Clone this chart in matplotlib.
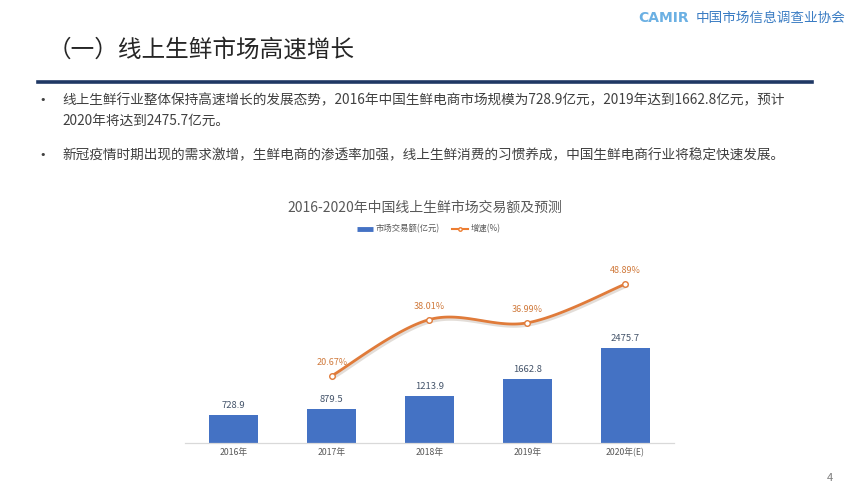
import numpy as np
import matplotlib
matplotlib.use("Agg")
import matplotlib.pyplot as plt
from matplotlib.lines import Line2D

plt.rcParams['font.family'] = ['Noto Sans CJK SC', 'DejaVu Sans']

# ---- data ----
years = ["2016年", "2017年", "2018年", "2019年", "2020年(E)"]
sales = [728.9, 879.5, 1213.9, 1662.8, 2475.7]
growth_years_idx = [1, 2, 3, 4]
growth = [20.67, 38.01, 36.99, 48.89]

header = "（一）线上生鲜市场高速增长"
bullet1_l1 = "线上生鲜行业整体保持高速增长的发展态势，2016年中国生鲜电商市场规模为728.9亿元，2019年达到1662.8亿元，预计"
bullet1_l2 = "2020年将达到2475.7亿元。"
bullet2 = "新冠疫情时期出现的需求激增，生鲜电商的渗透率加强，线上生鲜消费的习惯养成，中国生鲜电商行业将稳定快速发展。"
chart_title = "2016-2020年中国线上生鲜市场交易额及预测"
legend_labels = ["市场交易额(亿元)", "增速(%)"]

W, H = 850, 490
fig = plt.figure(figsize=(W / 100, H / 100), dpi=100)
fig.patch.set_facecolor("white")

def fx(x):
    return x / W

def fy(y):
    return 1 - y / H

# ---- slide header ----
fig.text(fx(48), fy(50), header, fontsize=17, color="#262626", va="center", ha="left")
fig.add_artist(Line2D([fx(38), fx(812)], [fy(82), fy(82)], color="#1F3864", lw=2.6))

# logo
fig.text(fx(664), fy(18), "CAMIR", fontsize=10, color="#6BB0E3", va="center", ha="center",
         family=["DejaVu Sans"], fontweight="bold")
fig.text(fx(696), fy(18), "中国市场信息调查业协会", fontsize=9.8, color="#3A7CC3", va="center", ha="left")

# bullets
bcol = "#404040"
fig.text(fx(43), fy(100), "•", fontsize=8, color=bcol, va="center", ha="center", family=["DejaVu Sans"])
fig.text(fx(62), fy(100), bullet1_l1, fontsize=9.85, color=bcol, va="center", ha="left")
fig.text(fx(62), fy(121), bullet1_l2, fontsize=9.85, color=bcol, va="center", ha="left")
fig.text(fx(43), fy(155), "•", fontsize=8, color=bcol, va="center", ha="center", family=["DejaVu Sans"])
fig.text(fx(62), fy(155), bullet2, fontsize=9.85, color=bcol, va="center", ha="left")

# page number
fig.text(fx(830), fy(478), "4", fontsize=8, color="#7F7F7F", va="center", ha="center")

# ---- chart ----
ax_l, ax_r, ax_t, ax_b = 185, 674, 251, 443
ax = fig.add_axes([fx(ax_l), fy(ax_b), fx(ax_r - ax_l), (ax_b - ax_t) / H])
ax.set_facecolor("none")
x = np.arange(len(years))
bars = ax.bar(x, sales, width=0.5, color="#4472C4", zorder=2)
ax.set_xlim(-0.5, len(years) - 0.5)
ax.set_ylim(0, 5000)
for s in ["top", "left", "right"]:
    ax.spines[s].set_visible(False)
ax.spines["bottom"].set_color("#D9D9D9")
ax.spines["bottom"].set_linewidth(0.9)
ax.set_yticks([])
ax.set_xticks(x)
ax.set_xticklabels(years, fontsize=6.3, color="#595959")
ax.tick_params(axis="x", length=0, pad=3.5)
for xi, v in zip(x, sales):
    ax.annotate(f"{v:.1f}", (xi, v), xytext=(0, 7), textcoords="offset points",
                ha="center", va="center", fontsize=6.8, color="#44546A")

ax2 = ax.twinx()
ax2.set_ylim(0, 59.1)
ax2.set_yticks([])
for s in ["top", "left", "right", "bottom"]:
    ax2.spines[s].set_visible(False)

# smoothed (Catmull-Rom) line through the data points
gx = np.array(growth_years_idx, dtype=float)
gy = np.array(growth, dtype=float)
px = np.concatenate([[gx[0]], gx, [gx[-1]]])
py = np.concatenate([[gy[0]], gy, [gy[-1]]])
cx, cy = [], []
t = np.linspace(0, 1, 40)
for i in range(1, len(px) - 2):
    p0, p1, p2, p3 = [np.array([px[j], py[j]]) for j in (i - 1, i, i + 1, i + 2)]
    m1 = (p2 - p0) / 2
    m2 = (p3 - p1) / 2
    h00 = 2 * t**3 - 3 * t**2 + 1
    h10 = t**3 - 2 * t**2 + t
    h01 = -2 * t**3 + 3 * t**2
    h11 = t**3 - t**2
    pts = np.outer(h00, p1) + np.outer(h10, m1) + np.outer(h01, p2) + np.outer(h11, m2)
    cx.extend(pts[:, 0]); cy.extend(pts[:, 1])
ax2.plot(cx, cy, color="#B0A090", lw=3.2, alpha=0.35, zorder=2,
         transform=ax2.transData + matplotlib.transforms.ScaledTranslation(1/100, -1.5/100, fig.dpi_scale_trans))
ax2.plot(cx, cy, color="#E07B3A", lw=2.0, zorder=3, solid_capstyle="round")
ax2.plot(gx, gy, linestyle="none", marker="o", markersize=4, markerfacecolor="white",
         markeredgecolor="#E07B3A", markeredgewidth=1.0, zorder=4)
for xi, v in zip(gx, gy):
    ax2.annotate(f"{v:.2f}%", (xi, v), xytext=(0, 9.5), textcoords="offset points",
                 ha="center", va="center", fontsize=6.5, color="#D07A3C")

# chart title
fig.text(fx(425), fy(208), chart_title, fontsize=10, color="#595959", ha="center", va="center")

# legend
handles = [Line2D([0], [0], color="#4472C4", lw=3.5, solid_capstyle="butt"),
           Line2D([0], [0], color="#ED7D31", lw=1.5, marker="o", markersize=2.5,
                  markerfacecolor="white", markeredgecolor="#ED7D31")]
fig.legend(handles, legend_labels, loc="center", bbox_to_anchor=(fx(429), fy(229)), ncol=2,
           frameon=False, fontsize=6.0, handlelength=1.9, handletextpad=0.3, columnspacing=1.5,
           labelcolor="#595959")

fig.savefig("out.png", dpi=100, facecolor="white")
